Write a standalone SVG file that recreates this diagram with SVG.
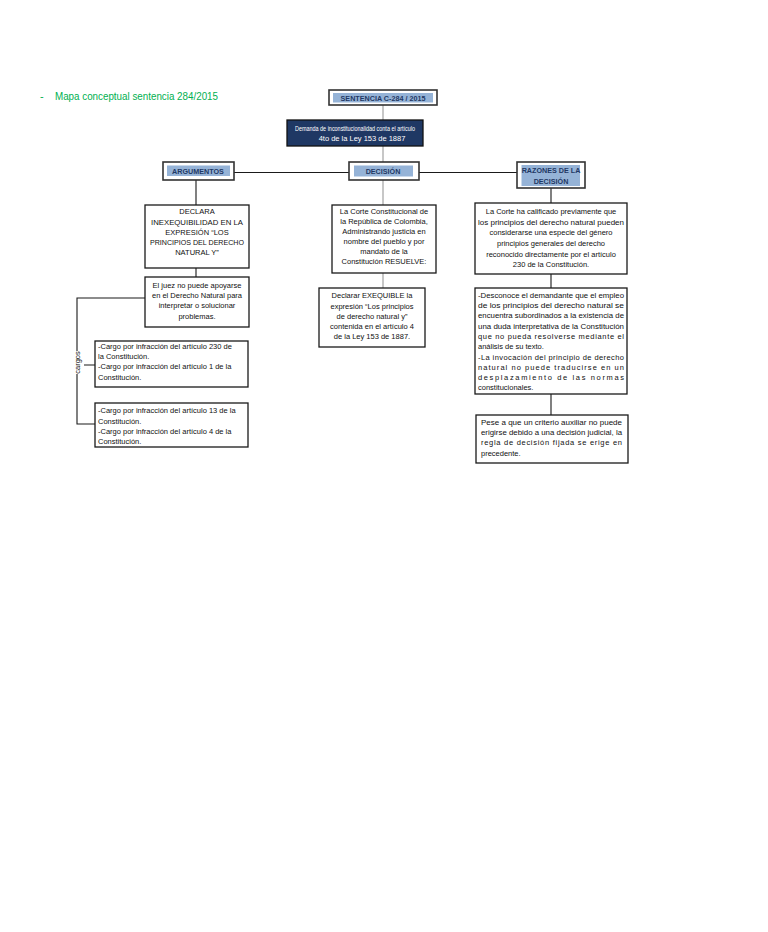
<svg xmlns="http://www.w3.org/2000/svg" width="768" height="932" viewBox="0 0 768 932">
<style>
.bg{fill:#ffffff}
.box{fill:#ffffff;stroke:#1a1a1a;stroke-width:1.3}
.hdr{fill:#ffffff;stroke:#333333;stroke-width:1.6}
.hin{fill:#95b3d7}
.ht{font-family:"Liberation Sans",Arial,sans-serif;font-size:7.2px;font-weight:bold;fill:#1f3864;text-anchor:middle}
.t{font-family:"Liberation Sans",Arial,sans-serif;font-size:7.5px;fill:#111111}
.c{text-anchor:middle}
.ln{stroke:#1a1a1a;stroke-width:1.1;fill:none}
.lg{stroke:#9a9a9a;stroke-width:1.1;fill:none}
.title{font-family:"Liberation Sans",Arial,sans-serif;font-size:11px;fill:#00b050}
</style>
<rect class="bg" x="0" y="0" width="768" height="932"/>
<g id="title">
<text class="title" x="40" y="100">-</text>
<text class="title" x="55" y="100" textLength="163" lengthAdjust="spacingAndGlyphs">Mapa conceptual sentencia 284/2015</text>
</g>
<g id="connectors">
<path class="lg" d="M383 105V120M383 146V162M383 180V205M383 273V288"/>
<path class="ln" d="M234 172.5H349M419 172.5H517"/>
<path class="ln" d="M196 180V205M196 268V277"/>
<path class="ln" d="M551 188V203M551 274V288M551 394V415"/>
<path class="ln" d="M145 298H77V351M77 374V424H95M84 365H95"/>
</g>
<g id="sentencia">
<rect class="hdr" x="329" y="90" width="108" height="15"/>
<rect class="hin" x="333" y="93" width="100" height="9.5"/>
<text class="ht" x="383" y="100.5">SENTENCIA C-284 / 2015</text>
</g>
<g id="demanda">
<rect x="287" y="120" width="136" height="26" fill="#1f3864" stroke="#111111" stroke-width="1.3"/>
<text class="t c" x="355" y="130.5" style="fill:#ffffff" textLength="120" lengthAdjust="spacingAndGlyphs">Demanda de inconstitucionalidad conta el artículo</text>
<text class="t c" x="362" y="140.5" style="fill:#ffffff">4to de la Ley 153 de 1887</text>
</g>
<g id="argumentos">
<rect class="hdr" x="163" y="162" width="71" height="18"/>
<rect class="hin" x="167" y="165.5" width="63" height="10.5"/>
<text class="ht" x="198" y="173.8">ARGUMENTOS</text>
</g>
<g id="decision">
<rect class="hdr" x="349" y="162" width="70" height="18"/>
<rect class="hin" x="354" y="165.5" width="59" height="11"/>
<text class="ht" x="383" y="173.8">DECISIÓN</text>
</g>
<g id="razones">
<rect class="hdr" x="517" y="162" width="68" height="26"/>
<rect class="hin" x="521.5" y="165" width="58.5" height="21"/>
<text class="ht" x="551" y="173.2">RAZONES DE LA</text>
<text class="ht" x="551" y="183.7">DECISIÓN</text>
</g>
<g id="declara">
<rect class="box" x="145" y="205" width="104" height="63"/>
<text class="t c" x="197" y="214.2">DECLARA</text>
<text class="t c" x="197" y="224.5" textLength="92" lengthAdjust="spacingAndGlyphs">INEXEQUIBILIDAD EN LA</text>
<text class="t c" x="197" y="234.8">EXPRESIÓN “LOS</text>
<text class="t c" x="197" y="245.1" textLength="94" lengthAdjust="spacingAndGlyphs">PRINCIPIOS DEL DERECHO</text>
<text class="t c" x="197" y="255.4">NATURAL Y”</text>
</g>
<g id="juez">
<rect class="box" x="145" y="277" width="104" height="50"/>
<text class="t c" x="197" y="287.7">El juez no puede apoyarse</text>
<text class="t c" x="197" y="298">en el Derecho Natural para</text>
<text class="t c" x="197" y="308.3">interpretar o solucionar</text>
<text class="t c" x="197" y="318.6">problemas.</text>
</g>
<g id="cargos-label">
<text class="t c" x="0" y="0" transform="translate(79.8 362.5) rotate(-90)">cargos</text>
</g>
<g id="cargos1">
<rect class="box" x="95" y="341" width="153" height="46"/>
<text class="t" x="98" y="348.8">-Cargo por infracción del artículo 230 de</text>
<text class="t" x="98" y="359.1">la Constitución.</text>
<text class="t" x="98" y="369.4">-Cargo por infracción del artículo 1 de la</text>
<text class="t" x="98" y="379.7">Constitución.</text>
</g>
<g id="cargos2">
<rect class="box" x="95" y="403" width="153" height="44"/>
<text class="t" x="98" y="413.2">-Cargo por infracción del artículo 13 de la</text>
<text class="t" x="98" y="423.5">Constitución.</text>
<text class="t" x="98" y="433.8">-Cargo por infracción del artículo 4 de la</text>
<text class="t" x="98" y="444.1">Constitución.</text>
</g>
<g id="corte">
<rect class="box" x="332" y="205" width="104" height="68"/>
<text class="t c" x="384" y="213.7">La Corte Constitucional de</text>
<text class="t c" x="384" y="223.7">la República de Colombia,</text>
<text class="t c" x="384" y="233.7">Administrando justicia en</text>
<text class="t c" x="384" y="243.7">nombre del pueblo y por</text>
<text class="t c" x="384" y="253.7">mandato de la</text>
<text class="t c" x="384" y="263.7">Constitución RESUELVE:</text>
</g>
<g id="exequible">
<rect class="box" x="319" y="288" width="106" height="59"/>
<text class="t c" x="372" y="298.2">Declarar EXEQUIBLE la</text>
<text class="t c" x="372" y="308.5">expresión “Los principios</text>
<text class="t c" x="372" y="318.8">de derecho natural y”</text>
<text class="t c" x="372" y="329.1">contenida en el artículo 4</text>
<text class="t c" x="372" y="339.4">de la Ley 153 de 1887.</text>
</g>
<g id="calificado">
<rect class="box" x="475" y="203" width="152" height="71"/>
<text class="t c" x="551" y="214.2">La Corte ha calificado previamente que</text>
<text class="t c" x="551" y="224.8" textLength="146" lengthAdjust="spacingAndGlyphs">los principios del derecho natural pueden</text>
<text class="t c" x="551" y="235.4">considerarse una especie del género</text>
<text class="t c" x="551" y="246">principios generales del derecho</text>
<text class="t c" x="551" y="256.6">reconocido directamente por el artículo</text>
<text class="t c" x="551" y="267.2">230 de la Constitución.</text>
</g>
<g id="desconoce">
<rect class="box" x="475" y="288" width="152" height="106"/>
<text class="t" x="478" y="297.7" textLength="146" lengthAdjust="spacingAndGlyphs">-Desconoce el demandante que el empleo</text>
<text class="t" x="478" y="308" textLength="146" lengthAdjust="spacingAndGlyphs">de los principios del derecho natural se</text>
<text class="t" x="478" y="318.3" textLength="146" lengthAdjust="spacingAndGlyphs">encuentra subordinados a la existencia de</text>
<text class="t" x="478" y="328.6" textLength="146" lengthAdjust="spacingAndGlyphs">una duda interpretativa de la Constitución</text>
<text class="t" x="478" y="338.9" textLength="146" lengthAdjust="spacing">que no pueda resolverse mediante el</text>
<text class="t" x="478" y="349.2">análisis de su texto.</text>
<text class="t" x="478" y="359.5" textLength="146" lengthAdjust="spacing">-La invocación del principio de derecho</text>
<text class="t" x="478" y="369.8" textLength="146" lengthAdjust="spacing">natural no puede traducirse en un</text>
<text class="t" x="478" y="380.1" textLength="146" lengthAdjust="spacing">desplazamiento de las normas</text>
<text class="t" x="478" y="390.4">constitucionales.</text>
</g>
<g id="precedente">
<rect class="box" x="476" y="415" width="152" height="48"/>
<text class="t" x="481" y="424.7" textLength="141" lengthAdjust="spacingAndGlyphs">Pese a que un criterio auxiliar no puede</text>
<text class="t" x="481" y="435" textLength="141" lengthAdjust="spacingAndGlyphs">erigirse debido a una decisión judicial, la</text>
<text class="t" x="481" y="445.3" textLength="141" lengthAdjust="spacing">regla de decisión fijada se erige en</text>
<text class="t" x="481" y="455.6">precedente.</text>
</g>
</svg>
